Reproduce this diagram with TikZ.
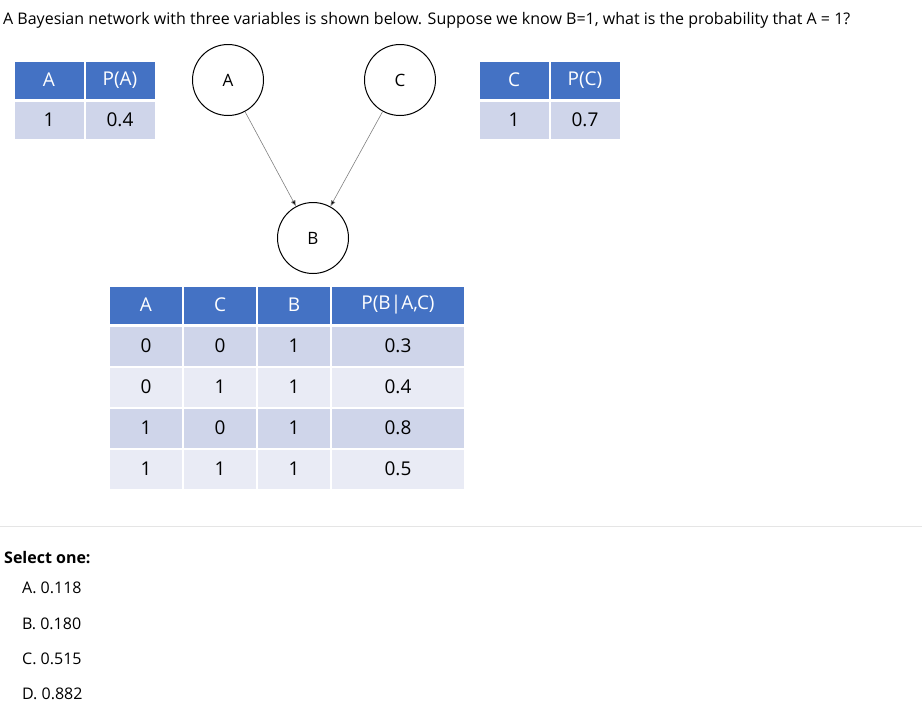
\documentclass[tikz,border=0pt]{standalone}
\usepackage{fontspec}
\setmainfont{Open Sans}
\usetikzlibrary{arrows.meta}
\definecolor{hdr}{HTML}{4472C4}
\definecolor{rowa}{HTML}{CFD5EA}
\definecolor{rowb}{HTML}{E9EBF5}
\tikzset{
  cell/.style={draw=white,line width=2pt,minimum height=39pt,inner sep=0pt,font=\fontsize{19}{22}\selectfont},
  hcell/.style={cell,fill=hdr,text=white},
  var/.style={circle,draw,line width=1pt,minimum size=71pt,inner sep=0pt,font=\fontsize{17}{20}\selectfont},
  edge/.style={draw=gray,line width=0.6pt,-{Latex[length=6pt,width=5pt,fill=black]}},
  txt/.style={anchor=west,inner sep=0pt,font=\fontsize{16}{19}\selectfont}
}
\begin{document}
\begin{tikzpicture}[x=1pt,y=-1pt]
\useasboundingbox (0,0) rectangle (922,713);
\node[txt] (q) at (3,20) {A Bayesian network with three variables is shown below. Suppose we know B=1, what is the probability that A = 1?};
% P(A)
\node[hcell,minimum width=71pt] (a1) at (49,80) {A};
\node[hcell,minimum width=71pt] (a2) at (120,80) {P(A)};
\node[cell,fill=rowa,minimum width=71pt] (a3) at (49,120) {1};
\node[cell,fill=rowa,minimum width=71pt] (a4) at (120,120) {0.4};
% P(C)
\node[hcell,minimum width=71pt] (c1) at (514,80) {C};
\node[hcell,minimum width=71pt] (c2) at (585,80) {P(C)};
\node[cell,fill=rowa,minimum width=71pt] (c3) at (514,120) {1};
\node[cell,fill=rowa,minimum width=71pt] (c4) at (585,120) {0.7};
% nodes
\node[var] (A) at (228,80) {A};
\node[var] (C) at (400,80) {C};
\node[var] (B) at (313,238) {B};
\draw[edge] (A) -- (B);
\draw[edge] (C) -- (B);
% CPT
\foreach \t [count=\i] in {A,C,B}
  \node[hcell,minimum width=74pt] (h\i) at ({146+74*(\i-1)},305) {\t};
\node[hcell,minimum width=134pt] (h4) at (398,305) {P(B|A,C)};
\foreach \a/\c/\b/\p/\f [count=\r] in {0/0/1/0.3/rowa,0/1/1/0.4/rowb,1/0/1/0.8/rowa,1/1/1/0.5/rowb}{
  \node[cell,fill=\f,minimum width=74pt,minimum height=41pt] (r\r a) at (146,{305+41*\r}) {\a};
  \node[cell,fill=\f,minimum width=74pt,minimum height=41pt] (r\r c) at (220,{305+41*\r}) {\c};
  \node[cell,fill=\f,minimum width=74pt,minimum height=41pt] (r\r b) at (294,{305+41*\r}) {\b};
  \node[cell,fill=\f,minimum width=134pt,minimum height=41pt] (r\r p) at (398,{305+41*\r}) {\p};
}
\draw[black!10,line width=0.8pt] (0,526) -- (922,526);
\node[txt,font=\fontsize{16}{19}\selectfont\bfseries] (s) at (4,558) {Select one:};
\node[txt] (o1) at (22,588) {A. 0.118};
\node[txt] (o2) at (22,624) {B. 0.180};
\node[txt] (o3) at (22,659) {C. 0.515};
\node[txt] (o4) at (22,694) {D. 0.882};
\end{tikzpicture}
\end{document}
